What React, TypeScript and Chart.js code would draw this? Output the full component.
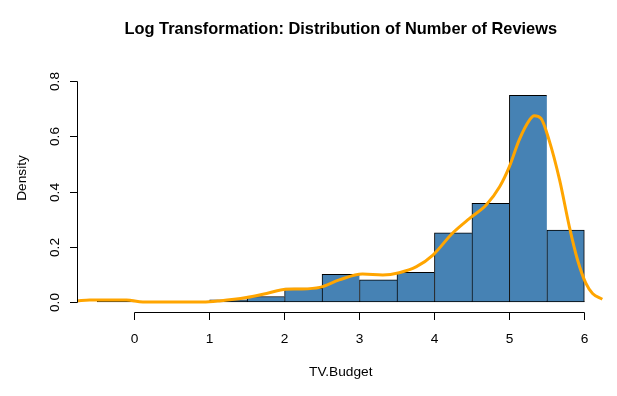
import React, { useEffect, useRef } from "react";
import { Chart, registerables } from "chart.js";

Chart.register(...registerables);

// ---- data ----
const titleText = "Log Transformation: Distribution of Number of Reviews";
const xAxisTitle = "TV.Budget";
const yAxisTitle = "Density";

const binWidth = 0.5;
const binStarts = [-0.5, 0, 0.5, 1, 1.5, 2, 2.5, 3, 3.5, 4, 4.5, 5, 5.5];
const binDensities = [0.007, 0, 0, 0.008, 0.02, 0.05, 0.1, 0.08, 0.107, 0.25, 0.357, 0.748, 0.26];

const densityX = [
  -0.77, -0.6, -0.3, -0.11, 0.11, 0.5, 0.91, 1.13, 1.49, 1.76, 2.02, 2.2, 2.47, 2.73, 3.04, 3.31, 3.53,
  3.76, 3.98, 4.24, 4.47, 4.69, 4.87, 5.0, 5.13, 5.27, 5.33, 5.42, 5.53, 5.67, 5.8, 5.91, 6.02, 6.11, 6.24,
];
const densityY = [
  0.004, 0.007, 0.007, 0.007, 0.0, 0.0, 0.0, 0.004, 0.016, 0.031, 0.046, 0.047, 0.053, 0.08, 0.101, 0.098,
  0.106, 0.128, 0.17, 0.249, 0.303, 0.351, 0.417, 0.49, 0.586, 0.659, 0.674, 0.665, 0.586, 0.442, 0.273,
  0.152, 0.068, 0.031, 0.01,
];

const xTicks = [0, 1, 2, 3, 4, 5, 6];
const yTicks = [0, 0.2, 0.4, 0.6, 0.8];
const yTickLabels = ["0.0", "0.2", "0.4", "0.6", "0.8"];

const xLimits = [-0.76, 6.26];
const yLimits = [-0.032, 0.832];

const FONT = '"Liberation Sans", Arial, Helvetica, sans-serif';

const rAxesPlugin = {
  id: "rAxes",
  beforeDatasetsDraw(chart: any) {
    const { ctx, scales } = chart;
    const x = scales.x;
    const y = scales.y;
    ctx.save();
    ctx.strokeStyle = "#000";
    ctx.lineWidth = 1;
    const yb = Math.round(y.getPixelForValue(0)) - 0.5;
    ctx.beginPath();
    ctx.moveTo(x.getPixelForValue(binStarts[0]), yb);
    ctx.lineTo(x.getPixelForValue(binStarts[binStarts.length - 1] + binWidth), yb);
    ctx.stroke();
    ctx.restore();
  },
  afterDraw(chart: any) {
    const { ctx, scales, chartArea } = chart;
    const x = scales.x;
    const y = scales.y;
    const cx = (chartArea.left + chartArea.right) / 2;
    ctx.save();
    ctx.fillStyle = "#000";
    ctx.strokeStyle = "#000";
    ctx.lineWidth = 1;

    // title
    ctx.font = `bold 16.4px ${FONT}`;
    ctx.textAlign = "center";
    ctx.textBaseline = "alphabetic";
    ctx.fillText(titleText, cx, 33.5);

    // x axis
    const axY = 312.5;
    ctx.beginPath();
    ctx.moveTo(Math.floor(x.getPixelForValue(xTicks[0])) + 0.5, axY);
    ctx.lineTo(Math.floor(x.getPixelForValue(xTicks[xTicks.length - 1])) + 0.5, axY);
    ctx.stroke();
    ctx.font = `13.7px ${FONT}`;
    xTicks.forEach((v) => {
      const px = Math.floor(x.getPixelForValue(v)) + 0.5;
      ctx.beginPath();
      ctx.moveTo(px, axY);
      ctx.lineTo(px, 320);
      ctx.stroke();
      ctx.fillText(String(v), px, 342.5);
    });
    ctx.fillText(xAxisTitle, cx, 376);

    // y axis
    const axX = 77.5;
    ctx.beginPath();
    ctx.moveTo(axX, Math.round(y.getPixelForValue(yTicks[0])) + 0.5);
    ctx.lineTo(axX, Math.round(y.getPixelForValue(yTicks[yTicks.length - 1])) + 0.5);
    ctx.stroke();
    yTicks.forEach((v, i) => {
      const py = Math.round(y.getPixelForValue(v)) + 0.5;
      ctx.beginPath();
      ctx.moveTo(70, py);
      ctx.lineTo(axX, py);
      ctx.stroke();
      ctx.save();
      ctx.translate(58.7, py);
      ctx.rotate(-Math.PI / 2);
      ctx.fillText(yTickLabels[i], 0, 0);
      ctx.restore();
    });
    ctx.save();
    ctx.translate(25.5, 178);
    ctx.rotate(-Math.PI / 2);
    ctx.fillText(yAxisTitle, 0, 0);
    ctx.restore();

    ctx.restore();
  },
};

const bgPlugin = {
  id: "bgWhite",
  beforeDraw(chart: any) {
    const { ctx, width, height } = chart;
    ctx.save();
    ctx.fillStyle = "#fff";
    ctx.fillRect(0, 0, width, height);
    ctx.restore();
  },
};

export default function App() {
  const ref = useRef<HTMLCanvasElement>(null);
  useEffect(() => {
    if (!ref.current) return;
    const lastBar = binStarts.length - 1;
    const chart = new Chart(ref.current, {
      type: "line",
      data: {
        datasets: [
          {
            type: "line",
            label: "density",
            data: densityX.map((v, i) => ({ x: v, y: densityY[i] })),
            borderColor: "#FFA500",
            borderWidth: 3,
            pointRadius: 0,
            fill: false,
            cubicInterpolationMode: "monotone",
            order: 0,
          } as any,
          {
            type: "bar",
            label: "hist",
            data: binStarts.map((s, i) => ({ x: s + binWidth / 2, y: binDensities[i] })),
            backgroundColor: "#4682B4",
            borderColor: "#000",
            borderSkipped: false,
            borderWidth: (c: any) => ({ top: 1, left: 1, bottom: 1, right: c.dataIndex === lastBar ? 1 : 0 }),
            barPercentage: 1,
            categoryPercentage: 1,
            order: 1,
          } as any,
        ],
      },
      options: {
        responsive: false,
        animation: false,
        devicePixelRatio: 1,
        layout: {
          padding: { left: 77.75, right: 13.2, top: 72.16, bottom: 85.16 },
        },
        plugins: {
          legend: { display: false },
          title: { display: false },
          tooltip: { enabled: false },
        },
        scales: {
          x: {
            type: "linear",
            display: false,
            offset: false,
            min: xLimits[0],
            max: xLimits[1],
            ticks: { stepSize: 1, includeBounds: false },
          },
          y: {
            type: "linear",
            display: false,
            min: yLimits[0],
            max: yLimits[1],
            ticks: { stepSize: 0.2, includeBounds: false },
          },
        },
      } as any,
      plugins: [bgPlugin, rAxesPlugin],
    });
    return () => chart.destroy();
  }, []);
  return (
    <div style={{ position: "fixed", left: 0, top: 0, width: 617, height: 396, background: "#fff" }}>
      <canvas ref={ref} width={617} height={396} style={{ display: "block", width: 617, height: 396 }} />
    </div>
  );
}
